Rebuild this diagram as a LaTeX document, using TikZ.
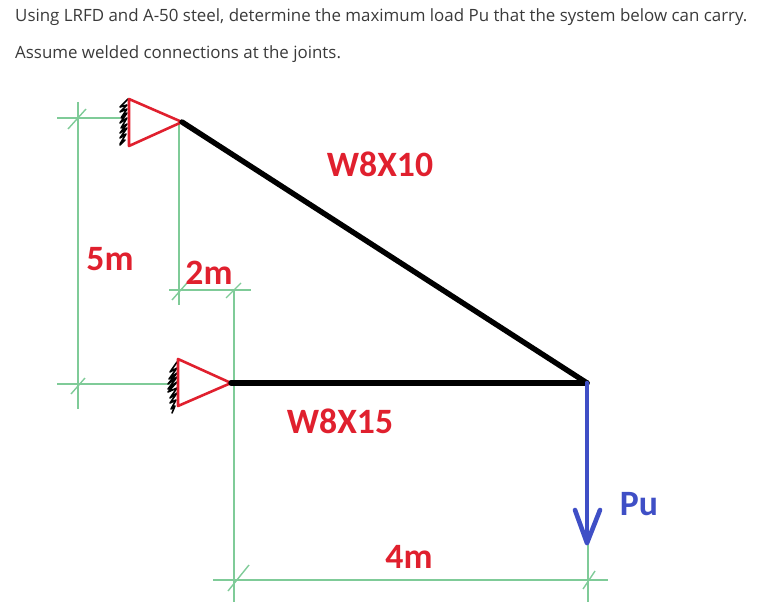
\documentclass[tikz,border=0pt]{standalone}
\usepackage{fontspec}
\setmainfont{Open Sans}
\newfontfamily\labfont{Carlito}
\definecolor{dimgreen}{HTML}{7FCB98}
\definecolor{supred}{HTML}{E0202E}
\definecolor{loadblue}{HTML}{3F4FC6}
\definecolor{txtgray}{HTML}{3A3A3A}
\tikzset{
  dimline/.style={draw=dimgreen,line width=2bp},
  ticky/.style={draw=dimgreen,line width=1.4bp},
  beam/.style={draw=black,line width=5.4bp,line cap=round},
  support/.style={draw=supred,line width=2.6bp,line join=round},
  hatchy/.style={draw=black,line width=1.6bp,line cap=round,line join=round},
  loadline/.style={draw=loadblue,line width=4.6bp,line join=round,line cap=round},
  lab/.style={inner sep=0pt,text=supred,font=\labfont\bfseries\fontsize{35.8}{36}\selectfont},
  para/.style={inner sep=0pt,anchor=base west,text=txtgray,font=\fontsize{16.97}{18}\selectfont}
}
\begin{document}
\begin{tikzpicture}[x=1bp,y=-1bp]
\useasboundingbox (0,0) rectangle (772,602);
% key points
\coordinate (A) at (182,122);
\coordinate (B) at (231,383);
\coordinate (C) at (587,383);
\coordinate (T) at (587,543);
% text
\node[para] (q1) at (15,22) {Using LRFD and A-50 steel, determine the maximum load Pu that the system below can carry.};
\node[para] (q2) at (15,59) {Assume welded connections at the joints.};
% dimension lines
\draw[dimline] (78,102) -- (78,409);
\draw[dimline] (57,118) -- (120,118);
\draw[dimline] (57,384) -- (170,384);
\draw[dimline] (179,122) -- (179,305);
\draw[dimline] (169,290) -- (251,290);
\draw[dimline] (234,290) -- (234,602);
\draw[dimline] (213,580) -- (608,580);
\draw[dimline] (588,543) -- (588,602);
\draw[ticky] (68,129) -- (86,109);
\draw[ticky] (71,394) -- (85,378);
\draw[ticky] (172,300) -- (187,283);
\draw[ticky] (226,298) -- (241,283);
\draw[ticky] (228,591) -- (249,565);
\draw[ticky] (583,589) -- (595,571);
% hatching
\draw[hatchy] (128,99) -- (120,107) -- (127,105) -- (120,112) -- (127,109) -- (121,118) -- (127,113) -- (120,123) -- (127,118) -- (121,128) -- (127,124) -- (120,133) -- (127,128) -- (120,138) -- (126,134) -- (120,144) -- (125,140) -- (120,145);
\draw[hatchy] (177,362) -- (170,372) -- (177,368) -- (169,379) -- (177,373) -- (168,384) -- (177,377) -- (168,389) -- (177,382) -- (168,392) -- (177,388) -- (170,398) -- (177,393) -- (170,403) -- (176,400) -- (171,409) -- (175,406) -- (172,413);
% supports
\draw[support] (129,99) -- (A) -- (129,146) -- cycle;
\draw[support] (178,359) -- (B) -- (178,406) -- cycle;
% members
\draw[beam] (A) -- (C);
\draw[beam] (B) -- (C);
% load
\draw[loadline] (C) -- (T);
\draw[loadline] (575,510) -- (T) -- (600,510);
% labels
\node[lab] (w1) at (380,164) {W8X10};
\node[lab] (w2) at (340,421) {W8X15};
\node[lab] (d5) at (110,259) {5m};
\node[lab] (d2) at (209,273) {2m};
\node[lab] (d4) at (409,557) {4m};
\node[lab,text=loadblue] (pu) at (639,504) {Pu};
\end{tikzpicture}
\end{document}
